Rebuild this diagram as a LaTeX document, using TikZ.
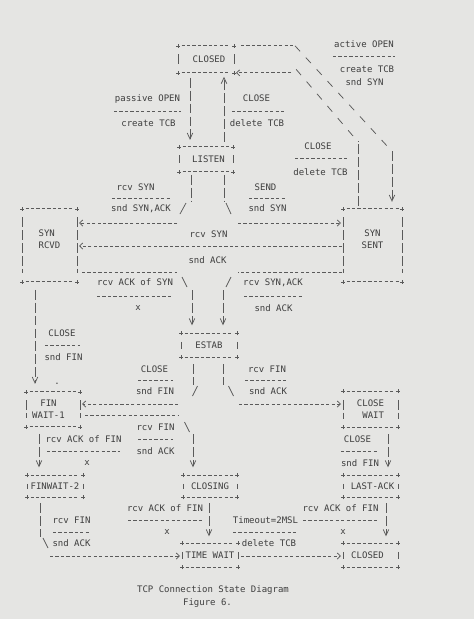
\documentclass[tikz,border=0pt]{standalone}
\usepackage{fontspec}
\setmonofont{DejaVu Sans Mono}
\usetikzlibrary{arrows.meta}
\definecolor{bg}{HTML}{E5E5E3}
\definecolor{ink}{HTML}{3E3E3E}
\definecolor{lc}{HTML}{5A5A5A}
\begin{document}
\begin{tikzpicture}[x=1pt,y=-1pt,
  lbl/.style={font=\fontsize{9}{12}\selectfont\ttfamily, text=ink, inner sep=0pt, anchor=base},
  statebox/.style={rectangle, inner sep=0pt, outer sep=0pt, font=\fontsize{9}{12}\selectfont\ttfamily, text=ink, align=center},
  hdash/.style={draw=lc, line width=0.75pt, dash pattern=on 3.2pt off 2.25pt},
  vbar/.style={draw=lc, line width=0.75pt, dash pattern=on 9.8pt off 3.1pt},
  diag/.style={draw=lc, line width=0.75pt, dash pattern=on 7.5pt off 8.5pt},
  slash/.style={draw=lc, line width=0.75pt},
  tiph/.style={-{Straight Barb[length=3.2pt,width=6pt,line width=0.75pt]}},
  tipv/.style={-{Straight Barb[length=6pt,width=5.6pt,line width=0.75pt]}}]
\fill[bg] (0,0) rectangle (474,619);
\useasboundingbox (0,0) rectangle (474,619);

% ---------------- states ----------------
\node[statebox, minimum width=56pt, minimum height=27pt] (closed) at (206,59.3) {\hspace*{6pt}CLOSED};
\node[statebox, minimum width=54pt, minimum height=25pt] (listen) at (206,159.3) {\hspace*{5pt}LISTEN};
\node[statebox, minimum width=55pt, minimum height=73pt, align=left] (synrcvd) at (49.5,245.3) {SYN\\RCVD\\\mbox{}};
\node[statebox, minimum width=59pt, minimum height=73pt] (synsent) at (372.5,245.3) {SYN\\SENT\\\mbox{}};
\node[statebox, minimum width=56pt, minimum height=24pt] (estab) at (209,345.3) {ESTAB};
\node[statebox, minimum width=54pt, minimum height=35pt, font=\fontsize{9}{11.5}\selectfont\ttfamily] (finwait1) at (53,409.3) {FIN\hspace*{9pt}\\WAIT-1\hspace*{9pt}};
\node[statebox, minimum width=55pt, minimum height=36pt, align=right, font=\fontsize{9}{11.5}\selectfont\ttfamily] (closewait) at (370.5,409.3) {CLOSE\\WAIT};
\node[statebox, minimum width=56pt, minimum height=22pt] (finwait2) at (55,486.3) {FINWAIT-2};
\node[statebox, minimum width=54pt, minimum height=22pt] (closing) at (210,486.3) {CLOSING};
\node[statebox, minimum width=55pt, minimum height=22pt] (lastack) at (370.5,486.3) {\hspace*{4pt}LAST-ACK};
\node[statebox, minimum width=56pt, minimum height=24pt] (timewait) at (210,555.3) {TIME WAIT};
\node[statebox, minimum width=55pt, minimum height=24pt] (closedb) at (370.5,555.3) {CLOSED\hspace*{6pt}};

\foreach \n in {closed,listen,synrcvd,synsent,estab,finwait1,closewait,finwait2,closing,lastack,timewait,closedb}{
  \draw[hdash] ([xshift=3.5pt]\n.north west) -- ([xshift=-3.5pt]\n.north east);
  \draw[hdash] ([xshift=3.5pt]\n.south west) -- ([xshift=-3.5pt]\n.south east);
  \draw[vbar] ([yshift=-8.5pt]\n.north west) -- ([yshift=8.5pt]\n.south west);
  \draw[vbar] ([yshift=-8.5pt]\n.north east) -- ([yshift=8.5pt]\n.south east);
  \foreach \c in {north west,north east,south west,south east}{
    \draw[lc, line width=0.6pt] ([xshift=-2pt]\n.\c) -- ([xshift=2pt]\n.\c)
                                ([yshift=-2pt]\n.\c) -- ([yshift=2pt]\n.\c);
  }
}

% ---------------- connectors ----------------
% CLOSED -> SYN SENT (active OPEN)
\coordinate (a1) at (295,45.8); \coordinate (a2) at (388,147); \coordinate (a3) at (392,151);
\draw[hdash, shorten <=7pt] (closed.north east) -- (a1);
\draw[diag] (a1) -- (a2);
\draw[vbar, tipv, shorten >=7pt] (a3) -- (a3 |- synsent.north);

% SYN SENT -> CLOSED (CLOSE)
\coordinate (b1) at (358,141); \coordinate (b2) at (353,136); \coordinate (b3) at (295,68); \coordinate (b4) at (291,72.8);
\draw[vbar, shorten <=3pt] (b1 |- synsent.north) -- (b1);
\draw[diag] (b2) -- (b3);
\draw[hdash, tiph, shorten >=2pt] (b4) -- (closed.south east);

% CLOSED -> LISTEN (passive OPEN)
\coordinate (p) at (190,0);
\draw[vbar, tipv, shorten <=5pt, shorten >=7pt] (closed.south -| p) -- (listen.north -| p);

% LISTEN -> CLOSED (CLOSE)
\coordinate (q) at (224,0);
\draw[vbar, tipv, shorten <=5pt, shorten >=4pt] (listen.north -| q) -- (closed.south -| q);

% LISTEN -> SYN RCVD
\coordinate (c1) at (191,201); \coordinate (c2) at (186,203); \coordinate (c3) at (180,214); \coordinate (c4) at (177,223);
\draw[vbar, shorten <=3pt] (listen.south -| c1) -- (c1);
\draw[slash] (c2) -- (c3);
\draw[hdash, tiph, shorten >=2pt] (c4) -- (c4 -| synrcvd.east);

% LISTEN -> SYN SENT
\coordinate (d1) at (224,201); \coordinate (d2) at (226,203); \coordinate (d3) at (231,214); \coordinate (d4) at (238,223);
\draw[vbar, shorten <=3pt] (listen.south -| d1) -- (d1);
\draw[slash] (d2) -- (d3);
\draw[hdash, tiph, shorten >=2pt] (d4) -- (d4 -| synsent.west);

% SYN SENT -> SYN RCVD
\coordinate (e1) at (0,246);
\draw[hdash, tiph, shorten <=1pt, shorten >=2pt] (synsent.west |- e1) -- (synrcvd.east |- e1);

% SYN RCVD -> ESTAB
\coordinate (f1) at (177,272); \coordinate (f2) at (182,277); \coordinate (f3) at (187,287); \coordinate (f4) at (192,290);
\draw[hdash, shorten <=5pt] (synrcvd.east |- f1) -- (f1);
\draw[slash] (f2) -- (f3);
\draw[vbar, tipv, shorten >=8pt] (f4) -- (f4 |- estab.north);

% SYN SENT -> ESTAB
\coordinate (g1) at (238,272); \coordinate (g2) at (231,277); \coordinate (g3) at (226,287); \coordinate (g4) at (223,290);
\draw[hdash, shorten <=1pt] (synsent.west |- g1) -- (g1);
\draw[slash] (g2) -- (g3);
\draw[vbar, tipv, shorten >=8pt] (g4) -- (g4 |- estab.north);

% SYN RCVD -> FIN WAIT-1
\coordinate (h) at (35,0);
\draw[vbar, tipv, shorten <=8pt, shorten >=8pt] (synrcvd.south -| h) -- (finwait1.north -| h);

% ESTAB -> FIN WAIT-1
\coordinate (i1) at (193,385); \coordinate (i2) at (197.5,386); \coordinate (i3) at (192.5,396); \coordinate (i4) at (178,404);
\draw[vbar, shorten <=7pt] (estab.south -| i1) -- (i1);
\draw[slash] (i2) -- (i3);
\draw[hdash, tiph, shorten >=2pt] (i4) -- (i4 -| finwait1.east);

% ESTAB -> CLOSE WAIT
\coordinate (j1) at (223,385); \coordinate (j2) at (228.5,386); \coordinate (j3) at (233.5,396); \coordinate (j4) at (239,404);
\draw[vbar, shorten <=7pt] (estab.south -| j1) -- (j1);
\draw[slash] (j2) -- (j3);
\draw[hdash, tiph, shorten >=2pt] (j4) -- (j4 -| closewait.west);

% FIN WAIT-1 -> CLOSING
\coordinate (k1) at (178,415); \coordinate (k2) at (184.5,422); \coordinate (k3) at (189.5,432); \coordinate (k4) at (193,434);
\draw[hdash, shorten <=5pt] (finwait1.east |- k1) -- (k1);
\draw[slash] (k2) -- (k3);
\draw[vbar, tipv, shorten >=8pt] (k4) -- (k4 |- closing.north);

% FIN WAIT-1 -> FINWAIT-2
\coordinate (m) at (39,0);
\draw[vbar, tipv, shorten <=7pt, shorten >=8pt] (finwait1.south -| m) -- (finwait2.north -| m);

% CLOSE WAIT -> LAST-ACK
\coordinate (n) at (388,0);
\draw[vbar, tipv, shorten <=7pt, shorten >=8pt] (closewait.south -| n) -- (lastack.north -| n);

% CLOSING -> TIME WAIT
\coordinate (o) at (209,0);
\draw[vbar, tipv, shorten <=6pt, shorten >=7pt] (closing.south -| o) -- (timewait.north -| o);

% LAST-ACK -> CLOSED
\coordinate (r) at (386,0);
\draw[vbar, tipv, shorten <=6pt, shorten >=7pt] (lastack.south -| r) -- (closedb.north -| r);

% FINWAIT-2 -> TIME WAIT
\coordinate (s1) at (40,537); \coordinate (s2) at (43,538); \coordinate (s3) at (48,548); \coordinate (s4) at (50,556);
\draw[vbar, shorten <=6pt] (finwait2.south -| s1) -- (s1);
\draw[slash] (s2) -- (s3);
\draw[hdash, tiph, shorten >=2pt] (s4) -- (s4 -| timewait.west);

% TIME WAIT -> CLOSED
\coordinate (t) at (0,556);
\draw[hdash, tiph, shorten <=3pt, shorten >=2pt] (timewait.east |- t) -- (closedb.west |- t);

% ---------------- labels ----------------
\node[lbl] (l1)  at (364,47)    {active OPEN};
\draw[hdash] (333,56) -- (395,56);
\node[lbl] (l2)  at (367,72)    {create TCB};
\node[lbl] (l3)  at (364.5,85)  {snd SYN};

\node[lbl] (l4)  at (147.5,101) {passive OPEN};
\draw[hdash] (114,111) -- (181,111);
\node[lbl] (l5)  at (148.5,126) {create TCB};

\node[lbl] (l6)  at (256.5,101) {CLOSE};
\draw[hdash] (232,111) -- (285,111);
\node[lbl] (l7)  at (257,126)   {delete TCB};

\node[lbl] (l8)  at (318,149)   {CLOSE};
\draw[hdash] (295,158) -- (348,158);
\node[lbl] (l9)  at (320.5,175) {delete TCB};

\node[lbl] (l10) at (135.5,190) {rcv SYN};
\draw[hdash] (112,198) -- (170,198);
\node[lbl] (l11) at (141,211)   {snd SYN,ACK};

\node[lbl] (l12) at (265.5,190) {SEND};
\draw[hdash] (249,198) -- (287,198);
\node[lbl] (l13) at (267.5,211) {snd SYN};

\node[lbl] (l14) at (208.5,237) {rcv SYN};
\node[lbl] (l15) at (207.5,263) {snd ACK};

\node[lbl] (l16) at (135,285)   {rcv ACK of SYN};
\draw[hdash] (97,296) -- (173,296);
\node[lbl] (l17) at (138,310.5) {x};

\node[lbl] (l18) at (273,285)   {rcv SYN,ACK};
\draw[hdash] (244,296) -- (303,296);
\node[lbl] (l19) at (273.5,311) {snd ACK};

\node[lbl] (l20) at (62,336)    {CLOSE};
\draw[hdash] (45,345) -- (80,345);
\node[lbl] (l21) at (63.5,360)  {snd FIN};
\node[lbl] (l22) at (57,384)    {.};

\node[lbl] (l23) at (154.5,372) {CLOSE};
\draw[hdash] (138,380) -- (173,380);
\node[lbl] (l24) at (155,394)   {snd FIN};

\node[lbl] (l25) at (267,372)   {rcv FIN};
\draw[hdash] (245,380) -- (287,380);
\node[lbl] (l26) at (268,394)   {snd ACK};

\node[lbl] (l27) at (155.5,430) {rcv FIN};
\draw[hdash] (138,439) -- (173,439);
\node[lbl] (l28) at (155.5,454) {snd ACK};

\node[lbl] (l29) at (83.5,442)  {rcv ACK of FIN};
\draw[hdash] (47,451) -- (120,451);
\node[lbl] (l30) at (87,465.5)  {x};

\node[lbl] (l31) at (357.5,442) {CLOSE};
\draw[hdash] (341,451) -- (377,451);
\node[lbl] (l32) at (360,466)   {snd FIN};

\node[lbl] (l33) at (165,511)   {rcv ACK of FIN};
\draw[hdash] (128,520) -- (202,520);
\node[lbl] (l34) at (167,534.5) {x};

\node[lbl] (l35) at (340.5,511) {rcv ACK of FIN};
\draw[hdash] (303,520) -- (377,520);
\node[lbl] (l36) at (343,534.5) {x};

\node[lbl] (l37) at (71.5,523)  {rcv FIN};
\draw[hdash] (53,532) -- (90,532);
\node[lbl] (l38) at (71.5,546)  {snd ACK};

\node[lbl] (l39) at (265.5,523) {Timeout=2MSL};
\draw[hdash] (233,532) -- (297,532);
\node[lbl] (l40) at (269,546)   {delete TCB};

\node[lbl] (cap1) at (213,592)  {TCP Connection State Diagram};
\node[lbl] (cap2) at (207.5,605) {Figure 6.};
\end{tikzpicture}
\end{document}
